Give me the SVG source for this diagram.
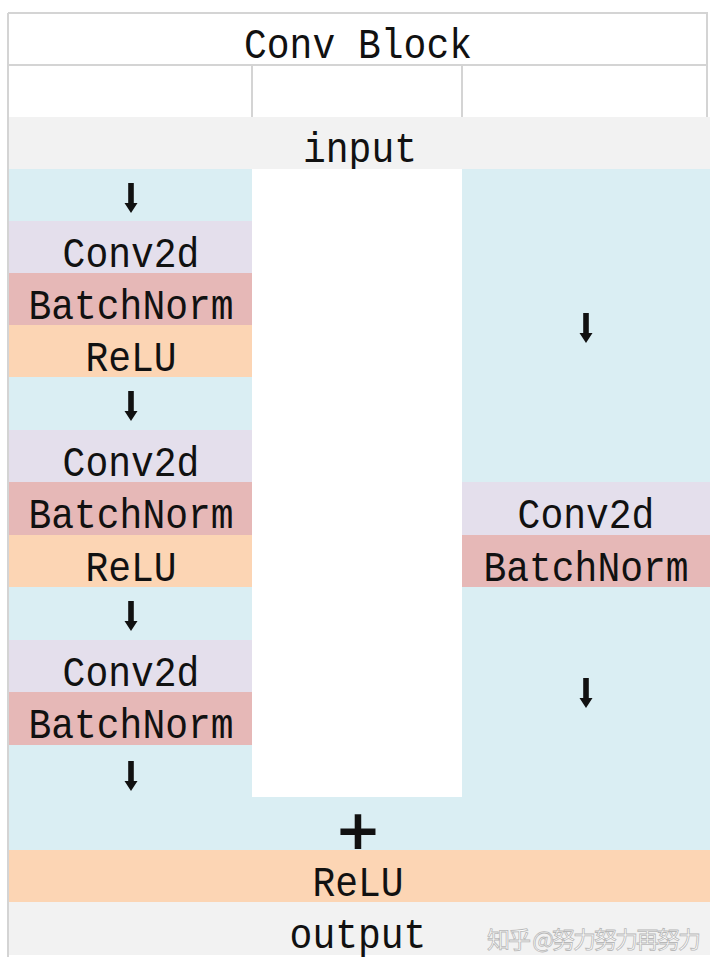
<svg xmlns="http://www.w3.org/2000/svg" width="720" height="969" viewBox="0 0 720 969">
<style>
.t{font-family:"Liberation Mono","DejaVu Sans Mono",monospace;font-size:38px;fill:#111111;text-anchor:middle}
.blue{fill:#daeef3}.lav{fill:#e4dfec}.pink{fill:#e6b8b7}.orng{fill:#fcd5b4}.gray{fill:#f2f2f2}.wh{fill:#ffffff}
.grid{stroke:#d4d4d4;stroke-width:2;fill:none}
.arr{fill:#111}
</style>
<defs>
<path id="ar" d="M-2.8,0 H2.8 V20 H6.5 L0,30 L-6.5,20 H-2.8 Z"/>
</defs>
<rect width="720" height="969" fill="#ffffff"/>
<g id="frame">
<path class="grid" d="M8,13 H707 V117 M8,13 V957 M8,65 H707 M252,65 V117 M462,65 V117"/>
</g>
<g id="title"><text class="t" transform="translate(358,58) scale(1,1.12)">Conv Block</text></g>
<g id="input"><rect class="gray" x="9" y="117" width="701" height="52"/><text class="t" transform="translate(360,162) scale(1,1.12)">input</text></g>
<g id="left-bg"><rect class="blue" x="9" y="169" width="243" height="628"/></g>
<g id="mid-bg"><rect class="wh" x="252" y="169" width="210" height="628"/></g>
<g id="right-bg"><rect class="blue" x="462" y="169" width="248" height="628"/></g>
<g id="conv1"><rect class="lav" x="9" y="221" width="243" height="52"/><text class="t" transform="translate(131,267) scale(1,1.12)">Conv2d</text></g>
<g id="bn1"><rect class="pink" x="9" y="273" width="243" height="52"/><text class="t" transform="translate(131,319) scale(1,1.12)">BatchNorm</text></g>
<g id="relu1"><rect class="orng" x="9" y="325" width="243" height="52"/><text class="t" transform="translate(131,371) scale(1,1.12)">ReLU</text></g>
<g id="conv2"><rect class="lav" x="9" y="430" width="243" height="52"/><text class="t" transform="translate(131,476) scale(1,1.12)">Conv2d</text></g>
<g id="bn2"><rect class="pink" x="9" y="482" width="243" height="53"/><text class="t" transform="translate(131,528) scale(1,1.12)">BatchNorm</text></g>
<g id="relu2"><rect class="orng" x="9" y="535" width="243" height="52"/><text class="t" transform="translate(131,581) scale(1,1.12)">ReLU</text></g>
<g id="conv3"><rect class="lav" x="9" y="640" width="243" height="52"/><text class="t" transform="translate(131,686) scale(1,1.12)">Conv2d</text></g>
<g id="bn3"><rect class="pink" x="9" y="692" width="243" height="53"/><text class="t" transform="translate(131,738) scale(1,1.12)">BatchNorm</text></g>
<g id="conv-sc"><rect class="lav" x="462" y="482" width="248" height="53"/><text class="t" transform="translate(586,528) scale(1,1.12)">Conv2d</text></g>
<g id="bn-sc"><rect class="pink" x="462" y="535" width="248" height="52"/><text class="t" transform="translate(586,581) scale(1,1.12)">BatchNorm</text></g>
<g id="add"><rect class="blue" x="9" y="797" width="701" height="53"/><text x="358" y="849" style="font-family:'DejaVu Sans',sans-serif;font-weight:bold;font-size:56px;fill:#111;text-anchor:middle">+</text></g>
<g id="relu-out"><rect class="orng" x="9" y="850" width="701" height="52"/><text class="t" transform="translate(358,896) scale(1,1.12)">ReLU</text></g>
<g id="output"><rect class="gray" x="9" y="902" width="701" height="53"/><text class="t" transform="translate(358,948) scale(1,1.12)">output</text></g>
<g id="connectors">
<use href="#ar" class="arr" x="131" y="183"/>
<use href="#ar" class="arr" x="131" y="391"/>
<use href="#ar" class="arr" x="131" y="601"/>
<use href="#ar" class="arr" x="131" y="761"/>
<use href="#ar" class="arr" x="586" y="313"/>
<use href="#ar" class="arr" x="586" y="678"/>
</g>
<g id="watermark"><text x="487" y="948" textLength="214" style="font-family:'Noto Sans CJK SC',sans-serif;font-size:23px;fill:#ffffff;stroke:#b8b8b8;stroke-width:0.8">知乎 @努力努力再努力</text></g>
</svg>
